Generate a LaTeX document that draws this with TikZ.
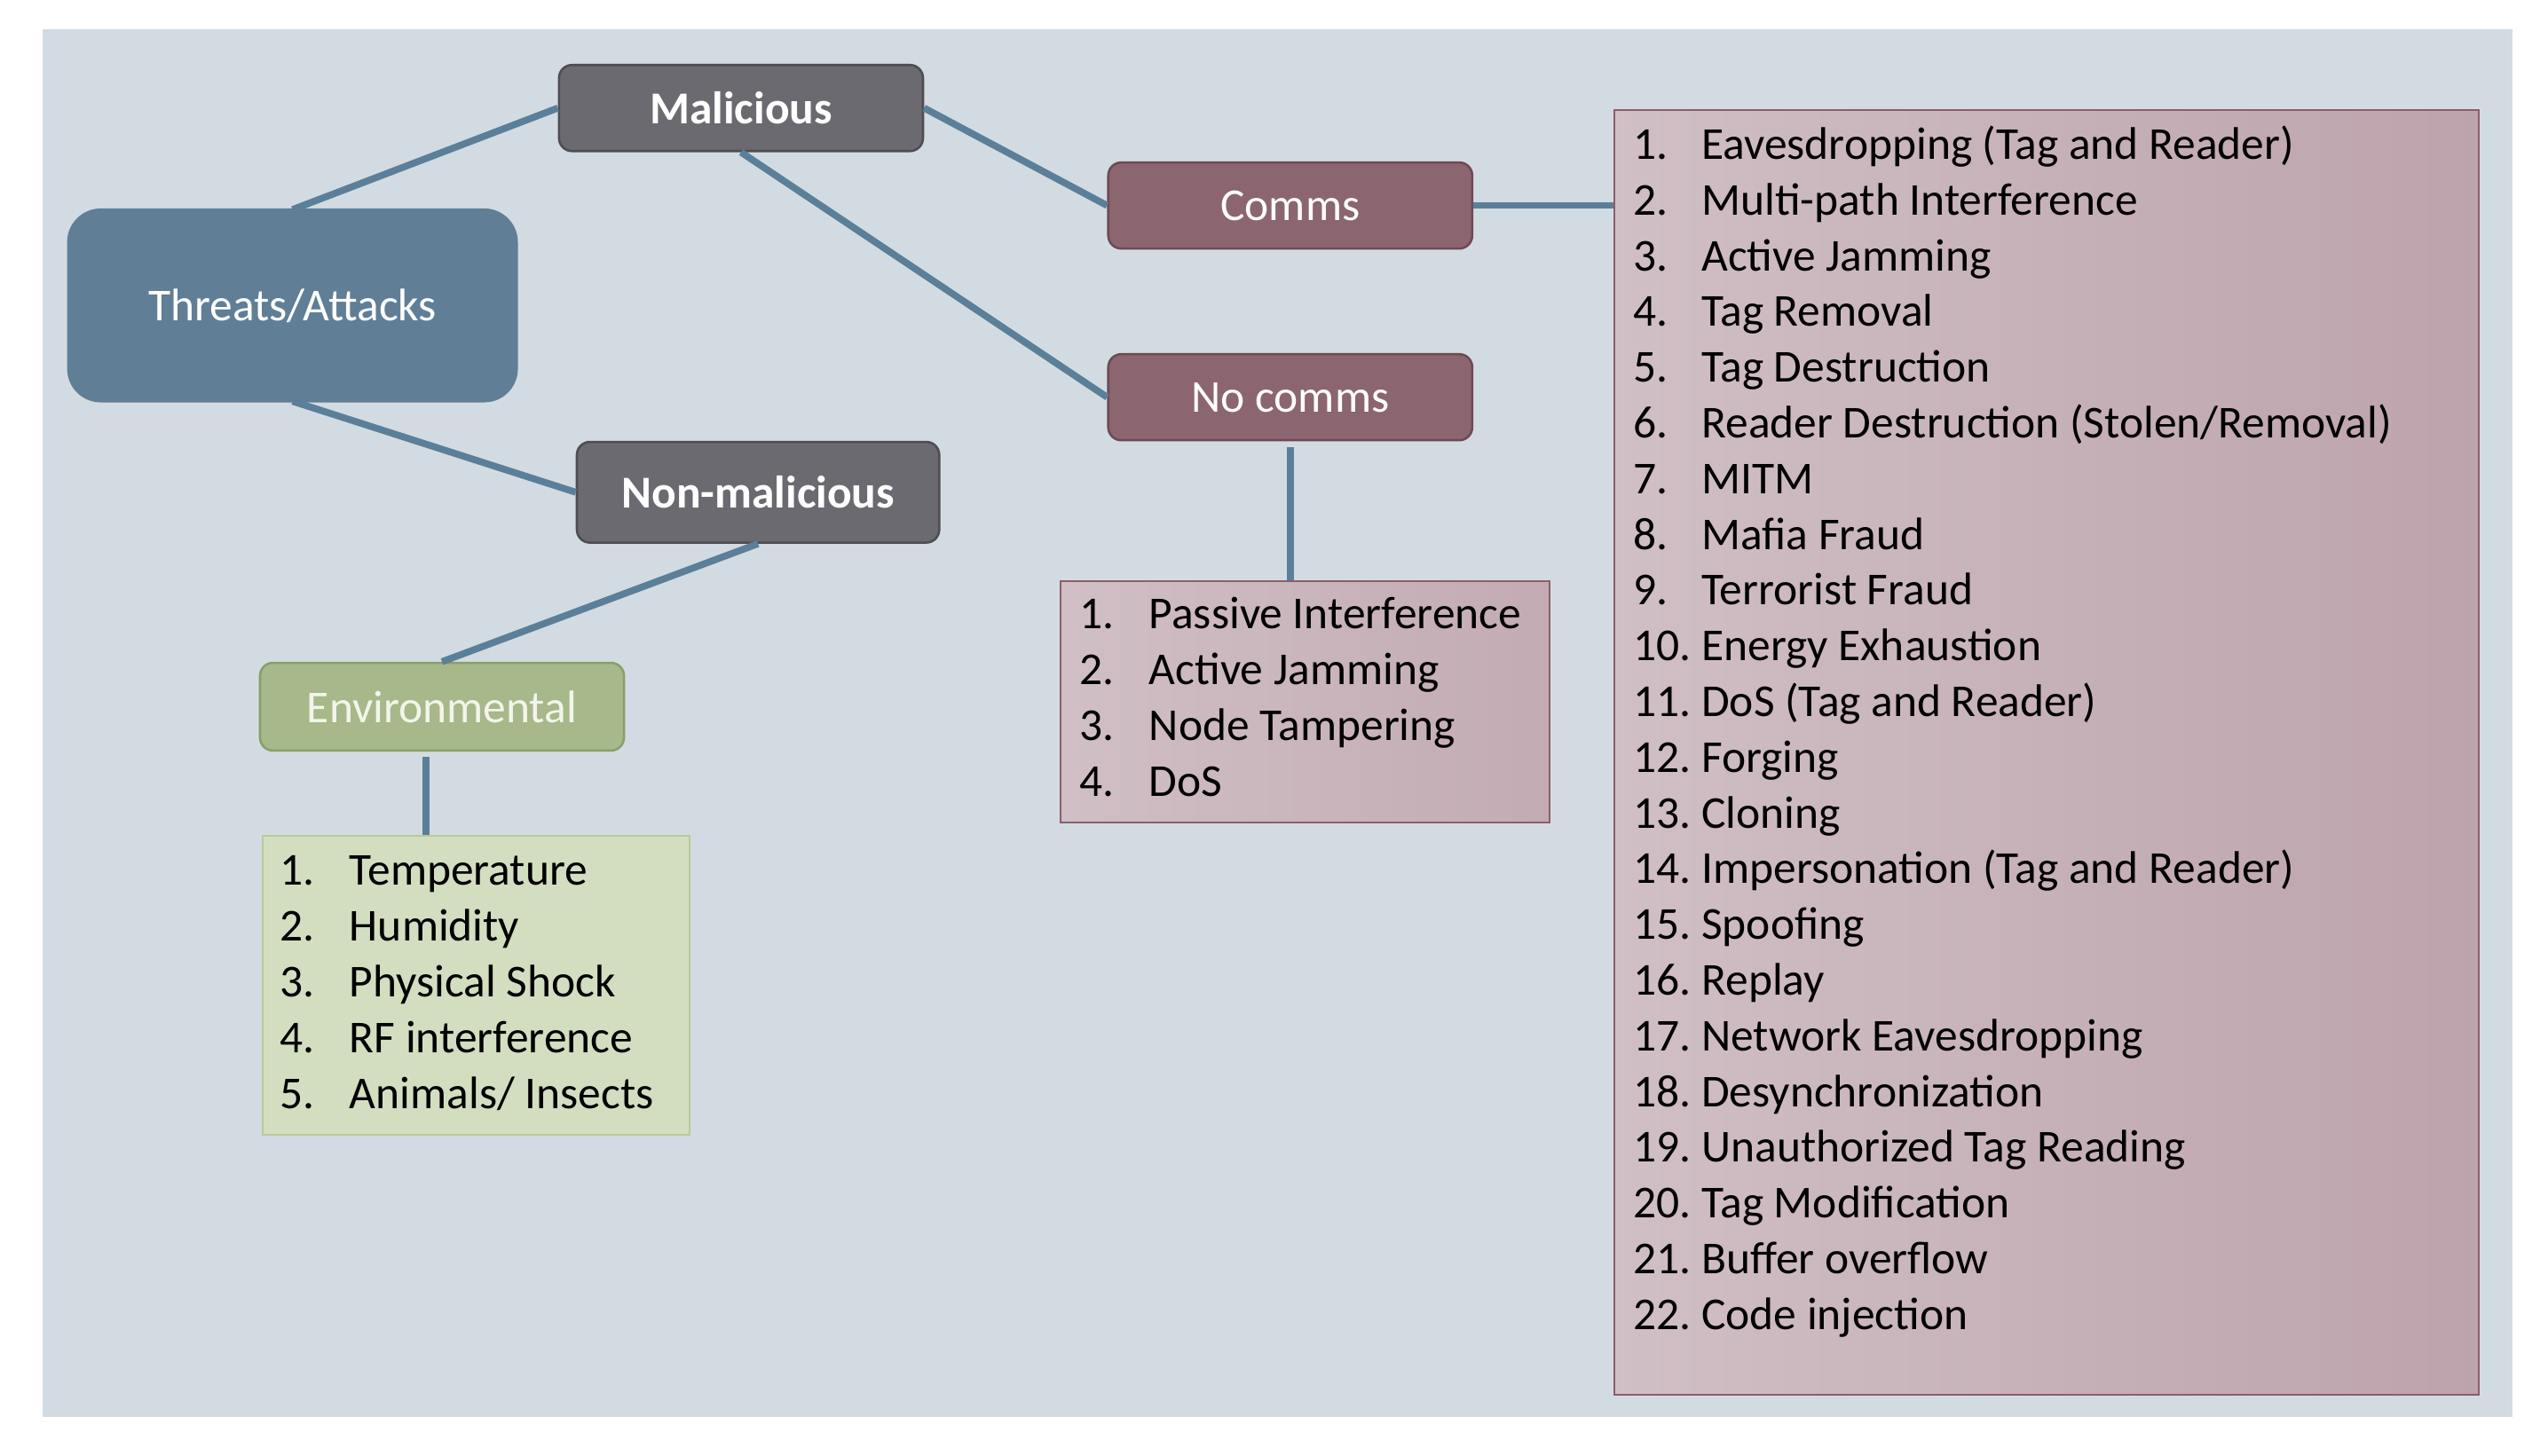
\documentclass[tikz,border=0pt]{standalone}
\usepackage{fontspec}
\setmainfont{Carlito}
\definecolor{bg}{HTML}{D3DBE2}
\definecolor{ln}{HTML}{5B7F99}
\definecolor{thr}{HTML}{607F96}
\definecolor{gry}{HTML}{6B6A70}
\definecolor{gryd}{HTML}{4E4D52}
\definecolor{mau}{HTML}{8B6570}
\definecolor{maud}{HTML}{6E4A55}
\definecolor{env}{HTML}{A7B88A}
\definecolor{envd}{HTML}{8A9E6A}
\definecolor{envt}{HTML}{F2F5EA}
\definecolor{envl}{HTML}{D3DEC0}
\definecolor{envb}{HTML}{B8CB96}
\definecolor{lstb}{HTML}{8B5E6B}
\definecolor{lsta}{HTML}{D0BFC5}
\definecolor{lstc}{HTML}{C3ABB3}
\definecolor{lstd}{HTML}{BDA3AC}
\begin{document}
\begin{tikzpicture}[x=0.05cm,y=-0.05cm,
  lab/.style={rectangle,rounded corners=0.4cm,line width=2pt,text=white,font=\fontsize{40}{46}\selectfont,inner sep=0pt},
  conn/.style={draw=ln,line width=6pt},
  lst/.style={anchor=base west,inner sep=0pt,text=black,font=\fontsize{40}{48.8}\selectfont},
  box/.style={rectangle,anchor=north west,inner sep=0pt,line width=1.5pt}]
\useasboundingbox (0,0) rectangle (1568,896);
\fill[white] (0,0) rectangle (1568,896);
\fill[bg] (26,18) rectangle (1546,872);
% boxes
\node[box,draw=envb,fill=envl,minimum width=13.15cm,minimum height=9.2cm] (el) at (161,514) {};
\node[box,draw=lstb,left color=lsta,right color=lstc,minimum width=15.05cm,minimum height=7.45cm] (nl) at (652,357) {};
\node[box,draw=lstb,left color=lsta,right color=lstd,minimum width=26.6cm,minimum height=39.55cm] (cl) at (993,67) {};
% label nodes
\node[lab,fill=thr,draw=thr,rounded corners=1cm,minimum width=13.8cm,minimum height=5.9cm] (t) at (180,188) {Threats/Attacks};
\node[lab,fill=gry,draw=gryd,minimum width=11.2cm,minimum height=2.65cm,font=\fontsize{40}{46}\selectfont\bfseries] (m) at (456,66.5) {Malicious};
\node[lab,fill=gry,draw=gryd,minimum width=11.15cm,minimum height=3.1cm,font=\fontsize{40}{46}\selectfont\bfseries] (nm) at (466.5,303) {Non-malicious};
\node[lab,fill=mau,draw=maud,minimum width=11.2cm,minimum height=2.65cm] (c) at (794,126.5) {Comms};
\node[lab,fill=mau,draw=maud,minimum width=11.2cm,minimum height=2.65cm] (nc) at (794,244.5) {No comms};
\node[lab,fill=env,draw=envd,text=envt,minimum width=11.2cm,minimum height=2.7cm] (e) at (272,435) {Environmental};
% connectors
\coordinate (ttop) at (180,129);
\coordinate (tbot) at (180,247);
\draw[conn] (ttop) -- (m.west);
\draw[conn] (m.south) -- (nc.west);
\draw[conn] (m.east) -- (c.west);
\draw[conn] (tbot) -- (nm.west);
\draw[conn] (nm.south) -- (e.north);
\coordinate (eb) at (262,466);
\draw[conn] (eb) -- (eb |- el.north);
\coordinate (ncb) at (794,275);
\draw[conn] (ncb) -- (ncb |- nl.north);
\draw[conn] (c.east) -- (c.east -| cl.west);
% lists
\node[lst] (elt) at (172,545) {\begin{tabular}[t]{@{}l@{}l@{}}
\makebox[2.15cm][l]{1.}&Temperature\\
\makebox[2.15cm][l]{2.}&Humidity\\
\makebox[2.15cm][l]{3.}&Physical Shock\\
\makebox[2.15cm][l]{4.}&RF interference\\
\makebox[2.15cm][l]{5.}&Animals/ Insects\end{tabular}};
\node[lst] (nlt) at (664,387) {\begin{tabular}[t]{@{}l@{}l@{}}
\makebox[2.15cm][l]{1.}&Passive Interference\\
\makebox[2.15cm][l]{2.}&Active Jamming\\
\makebox[2.15cm][l]{3.}&Node Tampering\\
\makebox[2.15cm][l]{4.}&DoS\end{tabular}};
\node[lst] (clt) at (1005,98) {\begin{tabular}[t]{@{}l@{}l@{}}
\makebox[2.1cm][l]{1.}&Eavesdropping (Tag and Reader)\\
\makebox[2.1cm][l]{2.}&Multi-path Interference\\
\makebox[2.1cm][l]{3.}&Active Jamming\\
\makebox[2.1cm][l]{4.}&Tag Removal\\
\makebox[2.1cm][l]{5.}&Tag Destruction\\
\makebox[2.1cm][l]{6.}&Reader Destruction (Stolen/Removal)\\
\makebox[2.1cm][l]{7.}&MITM\\
\makebox[2.1cm][l]{8.}&Mafia Fraud\\
\makebox[2.1cm][l]{9.}&Terrorist Fraud\\
\makebox[2.1cm][l]{10.}&Energy Exhaustion\\
\makebox[2.1cm][l]{11.}&DoS (Tag and Reader)\\
\makebox[2.1cm][l]{12.}&Forging\\
\makebox[2.1cm][l]{13.}&Cloning\\
\makebox[2.1cm][l]{14.}&Impersonation (Tag and Reader)\\
\makebox[2.1cm][l]{15.}&Spoofing\\
\makebox[2.1cm][l]{16.}&Replay\\
\makebox[2.1cm][l]{17.}&Network Eavesdropping\\
\makebox[2.1cm][l]{18.}&Desynchronization\\
\makebox[2.1cm][l]{19.}&Unauthorized Tag Reading\\
\makebox[2.1cm][l]{20.}&Tag Modification\\
\makebox[2.1cm][l]{21.}&Buffer overflow\\
\makebox[2.1cm][l]{22.}&Code injection\end{tabular}};
\end{tikzpicture}
\end{document}
